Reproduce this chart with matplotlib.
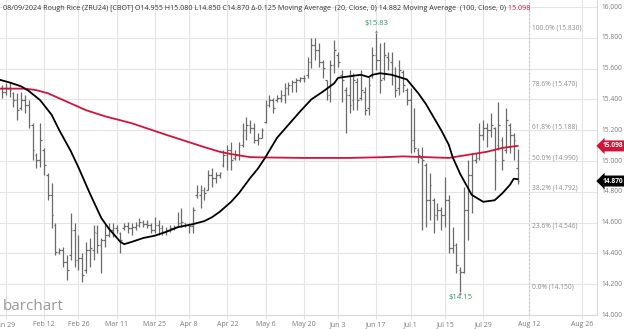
import numpy as np
import matplotlib.pyplot as plt

plt.rcParams['font.family'] = ['Open Sans', 'DejaVu Sans']

# daily OHLC bars, index 0 = Jan 29 2024, last bar = Aug 9 2024
highs = [15.495, 15.505, 15.515, 15.45, 15.44, 15.45, 15.43, 15.395, 15.245, 15.05,
         15.245, 15.085, 14.92, 14.855, 14.60, 14.435, 14.44, 14.39, 14.66, 14.60,
         14.52, 14.40, 14.475, 14.50, 14.585, 14.585, 14.50, 14.60, 14.60, 14.60,
         14.585, 14.54, 14.60, 14.605, 14.60, 14.605, 14.63, 14.615, 14.615, 14.60,
         14.635, 14.615, 14.585, 14.57, 14.585, 14.585, 14.67, 14.695, 14.60, 14.60,
         14.70, 14.845, 14.845, 14.83, 14.94, 14.955, 14.93, 14.93, 15.07, 15.105,
         15.125, 15.07, 15.125, 15.245, 15.285, 15.265, 15.245, 15.18, 15.215, 15.395,
         15.43, 15.41, 15.43, 15.46, 15.505, 15.515, 15.525, 15.54, 15.545, 15.56,
         15.675, 15.80, 15.80, 15.765, 15.655, 15.525, 15.655, 15.785, 15.71, 15.59,
         15.48, 15.59, 15.57, 15.54, 15.59, 15.48, 15.545, 15.74, 15.83, 15.765,
         15.775, 15.71, 15.71, 15.61, 15.655, 15.59, 15.475, 15.475, 15.345, 15.085,
         15.09, 14.985, 14.92, 14.76, 14.725, 14.70, 14.895, 14.78, 14.57, 14.465,
         14.31, 14.83, 15.005, 15.05, 15.05, 15.245, 15.265, 15.245, 15.31, 15.22,
         15.385, 15.155, 15.345, 15.245, 15.18, 15.08]
lows = [15.41, 15.43, 15.415, 15.35, 15.265, 15.33, 15.31, 15.215, 15.005, 14.955,
        14.96, 14.91, 14.745, 14.565, 14.39, 14.395, 14.31, 14.23, 14.355, 14.31,
        14.29, 14.215, 14.275, 14.31, 14.355, 14.40, 14.275, 14.44, 14.505, 14.505,
        14.53, 14.40, 14.55, 14.53, 14.52, 14.55, 14.57, 14.57, 14.565, 14.53,
        14.53, 14.52, 14.52, 14.52, 14.54, 14.55, 14.57, 14.57, 14.57, 14.53,
        14.53, 14.76, 14.695, 14.745, 14.81, 14.83, 14.855, 14.89, 14.96, 14.94,
        14.94, 15.005, 15.005, 15.09, 15.135, 15.18, 15.115, 15.105, 15.15, 15.245,
        15.35, 15.31, 15.385, 15.385, 15.375, 15.43, 15.45, 15.45, 15.515, 15.515,
        15.54, 15.605, 15.655, 15.61, 15.54, 15.395, 15.385, 15.57, 15.61, 15.385,
        15.18, 15.31, 15.33, 15.33, 15.395, 15.30, 15.30, 15.54, 15.59, 15.44,
        15.525, 15.59, 15.495, 15.415, 15.43, 15.45, 15.365, 15.05, 15.06, 14.985,
        14.55, 14.57, 14.615, 14.53, 14.615, 14.55, 14.57, 14.40, 14.40, 14.275,
        14.15, 14.275, 14.485, 14.66, 14.985, 15.005, 15.135, 15.09, 15.155, 14.81,
        15.07, 14.94, 15.05, 15.05, 15.005, 14.85]
opens = [15.475, 15.45, 15.475, 15.44, 15.395, 15.345, 15.395, 15.365, 15.235, 15.04,
         15.005, 15.07, 14.91, 14.78, 14.585, 14.41, 14.42, 14.345, 14.39, 14.55,
         14.355, 14.37, 14.29, 14.42, 14.42, 14.53, 14.455, 14.485, 14.52, 14.55,
         14.565, 14.53, 14.565, 14.58, 14.565, 14.57, 14.585, 14.605, 14.59, 14.585,
         14.55, 14.585, 14.565, 14.54, 14.55, 14.565, 14.57, 14.60, 14.60, 14.585,
         14.58, 14.78, 14.78, 14.81, 14.81, 14.91, 14.89, 14.91, 14.975, 15.04,
         15.07, 15.02, 15.04, 15.105, 15.20, 15.235, 15.215, 15.135, 15.15, 15.255,
         15.365, 15.395, 15.395, 15.41, 15.43, 15.475, 15.495, 15.515, 15.525, 15.54,
         15.56, 15.645, 15.755, 15.72, 15.645, 15.525, 15.43, 15.625, 15.69, 15.56,
         15.46, 15.43, 15.395, 15.515, 15.41, 15.45, 15.345, 15.56, 15.69, 15.655,
         15.54, 15.675, 15.645, 15.56, 15.475, 15.58, 15.46, 15.395, 15.135, 15.07,
         15.02, 14.975, 14.745, 14.745, 14.65, 14.68, 14.65, 14.745, 14.435, 14.455,
         14.29, 14.28, 14.68, 14.91, 15.005, 15.02, 15.17, 15.215, 15.20, 15.215,
         15.105, 15.135, 15.07, 15.235, 15.17, 14.955]
closes = [15.45, 15.475, 15.46, 15.395, 15.33, 15.395, 15.365, 15.235, 15.07, 15.005,
          15.135, 14.975, 14.78, 14.65, 14.41, 14.42, 14.345, 14.29, 14.55, 14.355,
          14.37, 14.26, 14.42, 14.435, 14.54, 14.455, 14.485, 14.52, 14.55, 14.565,
          14.55, 14.485, 14.58, 14.565, 14.57, 14.585, 14.605, 14.59, 14.585, 14.55,
          14.585, 14.565, 14.54, 14.55, 14.565, 14.57, 14.60, 14.605, 14.585, 14.58,
          14.68, 14.80, 14.81, 14.79, 14.91, 14.89, 14.91, 14.92, 15.04, 15.07,
          15.005, 15.04, 15.105, 15.20, 15.235, 15.215, 15.135, 15.15, 15.20, 15.365,
          15.395, 15.345, 15.41, 15.43, 15.475, 15.495, 15.515, 15.525, 15.54, 15.54,
          15.645, 15.755, 15.72, 15.645, 15.605, 15.43, 15.625, 15.72, 15.645, 15.525,
          15.43, 15.365, 15.525, 15.395, 15.46, 15.33, 15.495, 15.69, 15.655, 15.525,
          15.69, 15.655, 15.56, 15.46, 15.59, 15.495, 15.395, 15.135, 15.085, 15.04,
          15.005, 14.745, 14.845, 14.65, 14.68, 14.65, 14.745, 14.435, 14.455, 14.325,
          14.28, 14.68, 14.91, 15.005, 15.02, 15.17, 15.215, 15.20, 15.235, 15.005,
          15.235, 15.005, 15.265, 15.17, 15.135, 14.87]
bar_x = np.arange(-1, -1 + len(highs))

# moving averages (bar index, price)
ma20_x = [-2, 1, 4, 6, 9, 12, 14, 17, 19, 22, 25, 27, 30, 31, 33, 36, 39, 42, 45, 47,
          49, 52, 54, 56, 59, 61, 64, 66, 68, 71, 74, 77, 80, 83, 86, 87, 90, 93, 95, 96,
          98, 101, 103, 105, 106, 108, 110, 112, 114, 116, 117, 119, 121, 122, 125, 128,
          130, 132, 133, 134]
ma20 = [15.53, 15.51, 15.485, 15.455, 15.395, 15.30, 15.20, 15.065, 14.96, 14.79,
        14.63, 14.56, 14.475, 14.46, 14.475, 14.50, 14.515, 14.54, 14.57, 14.58,
        14.59, 14.61, 14.635, 14.67, 14.735, 14.79, 14.89, 14.95, 15.025, 15.15,
        15.235, 15.32, 15.40, 15.45, 15.505, 15.54, 15.55, 15.56, 15.545, 15.56,
        15.57, 15.56, 15.545, 15.53, 15.50, 15.44, 15.37, 15.285, 15.20, 15.105,
        15.025, 14.915, 14.825, 14.78, 14.735, 14.745, 14.79, 14.845, 14.885, 14.882]
ma100_x = [-2, 5, 8, 11, 16, 21, 26, 33, 42, 52, 56, 59, 64, 68, 78, 90, 99, 104, 110,
           116, 121, 126, 130, 134]
ma100 = [15.47, 15.47, 15.46, 15.44, 15.385, 15.33, 15.29, 15.245, 15.17, 15.09,
         15.06, 15.045, 15.025, 15.023, 15.02, 15.02, 15.025, 15.03, 15.025, 15.02,
         15.04, 15.06, 15.085, 15.098]

tick_pos = [0, 10, 19, 29, 39, 48, 58, 68, 78, 87, 97, 106, 115, 125, 137, 151]
tick_labels = ['Jan 29', 'Feb 12', 'Feb 26', 'Mar 11', 'Mar 25', 'Apr 8', 'Apr 22', 'May 6',
               'May 20', 'Jun 3', 'Jun 17', 'Jul 1', 'Jul 15', 'Jul 29', 'Aug 12', 'Aug 26']

fib_pct = ['100.0%', '78.6%', '61.8%', '50.0%', '38.2%', '23.6%', '0.0%']
fib_lvl = [15.830, 15.470, 15.188, 14.990, 14.792, 14.546, 14.150]

RED = '#d2143a'
GREEN = '#2a9d5c'
GRID = '#e4e4e4'
TXT = '#7a7a7a'

fig = plt.figure(figsize=(6.24, 3.29), dpi=100)
ax = fig.add_axes([0, 14 / 329, 597 / 624, 315 / 329])
ax.set_xlim(-1.52, 154.8)
ax.set_ylim(14.0, 16.0455)

ax.set_yticks(np.arange(14.0, 16.01, 0.2))
ax.set_xticks(tick_pos, tick_labels)
ax.grid(color=GRID, lw=0.8)
ax.tick_params(axis='y', length=0, labelleft=False)
ax.tick_params(axis='x', length=3, color=GRID, labelsize=5, labelcolor=TXT, pad=1.5)
for s in ['top', 'left']:
    ax.spines[s].set_visible(False)
ax.spines['bottom'].set_color('#d8d8d8')
ax.spines['right'].set_color('#d8d8d8')

# OHLC bars
bar_col = '#6a6a6a'
ax.vlines(bar_x, lows, highs, color=bar_col, lw=0.9)
ax.hlines(opens, bar_x - 0.45, bar_x, color=bar_col, lw=0.9)
ax.hlines(closes, bar_x, bar_x + 0.45, color=bar_col, lw=0.9)

ax.plot(ma100_x, ma100, color=RED, lw=1.3)
ax.plot(ma20_x, ma20, color='black', lw=1.3)

# fibonacci retracement labels
ax.axvline(137, color='#c4c4c4', lw=0.7, ls=(0, (2, 2)))
for pct, lvl in zip(fib_pct, fib_lvl):
    ax.text(137.8, lvl + 0.008, f'{pct} ({lvl:.3f})', fontsize=4.8, color='#8c8c8c', va='bottom')

# high / low markers
hi_i = int(np.argmax(highs))
lo_i = int(np.argmin(lows))
ax.plot(bar_x[hi_i], highs[hi_i] + 0.015, marker='^', ms=2, color='#888888', mew=0)
ax.text(bar_x[hi_i], highs[hi_i] + 0.06, f'${highs[hi_i]:.2f}', fontsize=5.5, color=GREEN,
        ha='center', va='center')
ax.plot(bar_x[lo_i], lows[lo_i] - 0.012, marker='v', ms=2, color='#888888', mew=0)
ax.text(bar_x[lo_i], lows[lo_i] - 0.036, f'${lows[lo_i]:.2f}', fontsize=5.5, color=GREEN,
        ha='center', va='center')

# right price scale
axr = fig.add_axes([597 / 624, 12 / 329, 27 / 624, 317 / 329])
axr.set_xlim(0, 1)
axr.set_ylim(16.0455 - 317 / 154, 16.0455)
axr.axis('off')
for p in np.arange(14.0, 16.01, 0.2):
    axr.text(0.16, p, f'{p:.3f}', fontsize=4.8, color=TXT, va='center', clip_on=True)
axr.text(0.2, 15.098, '15.098', fontsize=4.8, color='white', weight='bold', va='center',
         bbox=dict(boxstyle='larrow,pad=0.3', fc=RED, ec='none'), clip_on=False)
axr.text(0.2, 14.870, '14.870', fontsize=4.8, color='white', weight='bold', va='center',
         bbox=dict(boxstyle='larrow,pad=0.3', fc='black', ec='none'), clip_on=False)

# header line
title = fig.text(3 / 624, 1 - 8 / 329,
                 '08/09/2024 Rough Rice (ZRU24) [CBOT] O14.955 H15.080 L14.850 C14.870 '
                 '\u0394-0.125 Moving Average  (20, Close, 0) 14.882 Moving Average  (100, Close, 0)',
                 fontsize=5.1, color='#333333', va='center')
ax.annotate(' 15.098', xy=(1, 0.5), xycoords=title, fontsize=5.1, color=RED, va='center',
            annotation_clip=False)

fig.text(3 / 624, 1 - 306 / 329, 'barchart', fontsize=11, color='#9a9a9a', va='center')

fig.savefig('out.png', dpi=100)
